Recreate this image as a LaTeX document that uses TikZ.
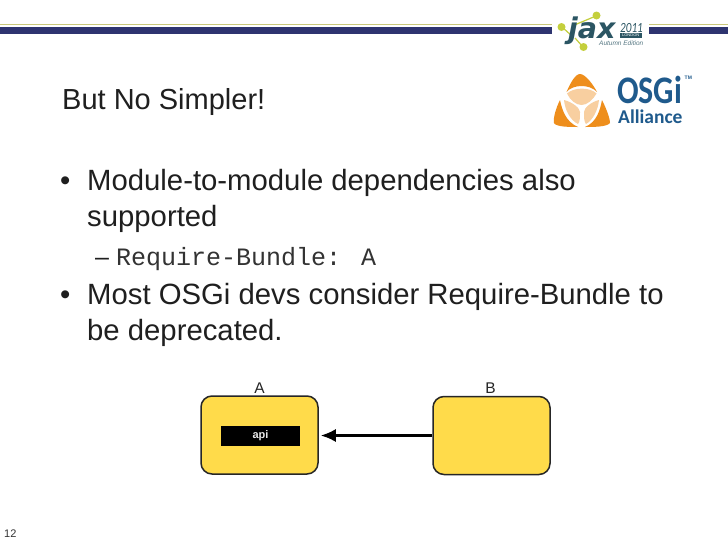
\documentclass[tikz,border=0pt]{standalone}
\usepackage{fontspec}
\setmainfont{Liberation Sans}
\newfontfamily\monof{Liberation Mono}
\newfontfamily\logof{Carlito}
\newfontfamily\jaxf{DejaVu Sans}
\usetikzlibrary{arrows.meta}
\definecolor{navy}{HTML}{2E3470}
\definecolor{goldline}{HTML}{C9C77A}
\definecolor{boxyellow}{HTML}{FFDB4A}
\definecolor{osgiblue}{HTML}{1F5A8C}
\definecolor{osgiorange}{HTML}{EE8E1C}
\definecolor{osgilight}{HTML}{F8CFA0}
\definecolor{jaxteal}{HTML}{2B5563}
\definecolor{jaxgreen}{HTML}{C4CF3C}
\tikzset{
  slidetext/.style={anchor=base west,inner sep=0pt,font=\fontsize{29.3}{29}\selectfont,text=black!88},
  subtext/.style={anchor=base west,inner sep=0pt,font=\fontsize{25}{25}\monof,text=black!80},
  modulebox/.style={draw=black!85,fill=boxyellow,line width=1.5pt,rounded corners=11pt,minimum width=117pt,minimum height=78pt,inner sep=0pt},
  boxlabel/.style={inner sep=0pt,font=\fontsize{15.5}{16}\selectfont,text=black!85},
  apibox/.style={fill=black,text=white!92!black,inner sep=0pt,minimum width=79pt,minimum height=20pt,font=\fontsize{11}{11}\bfseries},
  deparrow/.style={line width=2.2pt,draw=black,-{Latex[length=15pt,width=13pt]}},
}
\begin{document}
\begin{tikzpicture}[x=1pt,y=-1pt]
\useasboundingbox (0,0) rectangle (728,546);
\fill[white] (0,0) rectangle (728,546);
% header bars
\fill[goldline] (0,24) rectangle (552,25.4);
\fill[navy] (0,27) rectangle (552,34);
\fill[goldline] (648.5,24) rectangle (728,25.4);
\fill[navy] (648.5,27) rectangle (728,34);
% JAX logo
\draw[jaxgreen,line width=1.2pt] (596,16) -- (572,26) (562,27) -- (572,36) (575,38) -- (583,47);
\fill[jaxgreen] (596.5,15.5) circle (4);
\fill[jaxgreen] (561.5,27) circle (4);
\fill[jaxgreen] (583.5,47) circle (4);
\node[anchor=base west,inner sep=0pt,text=jaxteal] (jax) at (568,38.5) {\fontsize{28.5}{28}\jaxf\bfseries\itshape jax};
\node[anchor=base west,inner sep=0pt,text=jaxteal,xscale=.8] (yr) at (620,32) {\fontsize{14}{14}\logof\itshape 2011};
\fill[jaxteal] (619.5,33) rectangle (642,38);
\node[inner sep=0pt,text=white] (ldn) at (630.7,35.5) {\fontsize{4}{4}\selectfont LONDON};
\node[anchor=base west,inner sep=0pt,text=jaxteal!80] (ae) at (599,45.5) {\fontsize{6.5}{7}\selectfont\itshape Autumn Edition};
% OSGi logo
\fill[osgiorange] (566.5,92) .. controls (570,84) and (575,74) .. (580,74) .. controls (585,74) and (593,84) .. (597,92) .. controls (590,84) and (573,84) .. (566.5,92) -- cycle;
\fill[osgilight] (567,93.5) .. controls (574,87) and (590,87) .. (596.5,93.5) .. controls (593,100) and (587,105) .. (581.5,105) .. controls (576,105) and (570,100) .. (567,93.5) -- cycle;
\fill[osgiorange] (560,100) .. controls (556,108) and (553,118) .. (554,123) .. controls (556,127) and (570,127) .. (578,127) .. controls (566,122) and (562,110) .. (560,100) -- cycle;
\fill[osgilight] (564,100) .. controls (572,102) and (580,108) .. (580,112) .. controls (580,117) and (580,122) .. (578,124) .. controls (570,120) and (565,110) .. (564,100) -- cycle;
\fill[osgiorange] (602,100) .. controls (606,108) and (610,118) .. (610,123) .. controls (607,127) and (593,127) .. (585,127) .. controls (597,122) and (600,110) .. (602,100) -- cycle;
\fill[osgilight] (599,100) .. controls (591,102) and (584,108) .. (584,112) .. controls (584,117) and (584,122) .. (586,124) .. controls (593,120) and (598,110) .. (599,100) -- cycle;
\node[anchor=base west,inner sep=0pt,text=osgiblue,xscale=.82] (osgi) at (617,103) {\fontsize{39}{39}\logof\bfseries OSGi};
\node[anchor=base west,inner sep=0pt,text=osgiblue] (tm) at (684.5,79) {\fontsize{5}{5}\selectfont\bfseries TM};
\node[anchor=base west,inner sep=0pt,text=osgiblue] (all) at (618,123) {\fontsize{19.5}{20}\logof\bfseries Alliance};
% text
\node[slidetext,font=\fontsize{29}{29}\selectfont] (title) at (62,109) {But No Simpler!};
\node[slidetext] (b1) at (60,190.5) {•};
\node[slidetext] (l1) at (87,190.5) {Module-to-module dependencies also};
\node[slidetext] (l2) at (87,226.5) {supported};
\node[slidetext] (d1) at (95,265) {\fontsize{25}{25}\selectfont –};
\node[subtext] (l3) at (116,265) {Require-Bundle: A};
\node[slidetext] (b2) at (60,304.5) {•};
\node[slidetext] (l4) at (87,304.5) {Most OSGi devs consider Require-Bundle to};
\node[slidetext] (l5) at (87,340.5) {be deprecated.};
% diagram
\node[modulebox] (A) at (259.5,435) {};
\node[modulebox] (B) at (491.5,435.5) {};
\node[boxlabel] at (259.5,388) {A};
\node[boxlabel] at (490.5,388) {B};
\node[apibox] (api) at (260.5,435.5) {api};
\draw[deparrow] (B.west) -- ([xshift=2pt]A.east |- B.west);
\node[anchor=base west,inner sep=0pt,font=\fontsize{11}{11}\selectfont,text=black!80] (pg) at (4,537) {12};
\end{tikzpicture}
\end{document}
